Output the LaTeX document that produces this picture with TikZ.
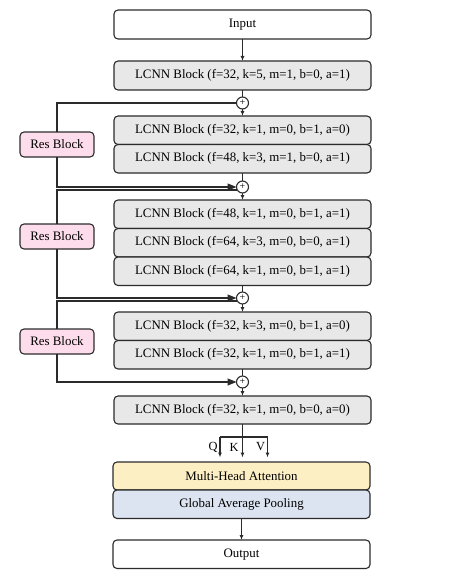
\documentclass[tikz,border=0pt]{standalone}
\usepackage{fontspec}
\setmainfont{Liberation Serif}
\usetikzlibrary{arrows.meta}
\definecolor{lcnn}{HTML}{E8E8E8}
\definecolor{resb}{HTML}{FDDDEB}
\definecolor{mha}{HTML}{FDEFC4}
\definecolor{gap}{HTML}{DCE4F1}
\definecolor{ln}{HTML}{2B2B2B}
\tikzset{
  box/.style={draw=ln, line width=1.1pt, rounded corners=4pt, minimum width=257pt, inner sep=0pt, outer sep=0pt, font=\fontsize{12.9}{14}\selectfont, anchor=north},
  resbox/.style={draw=ln, line width=1.1pt, rounded corners=4pt, fill=resb, minimum width=74pt, minimum height=25pt, inner sep=0pt, outer sep=0pt, font=\fontsize{12.9}{14}\selectfont},
  plusnode/.style={draw=ln, line width=1.1pt, circle, minimum size=12pt, inner sep=0pt, outer sep=0pt, fill=white, font=\fontsize{10}{10}\selectfont},
  conn/.style={draw=ln, line width=1.1pt},
  sarr/.style={conn, -{Latex[length=5pt,width=4pt]}},
  barr/.style={conn, -{Triangle[length=9pt,width=7pt]}},
  lab/.style={font=\fontsize{12.4}{14}\selectfont, inner sep=0pt}
}
\begin{document}
\begin{tikzpicture}[x=1pt,y=-1pt]
\useasboundingbox (0,0) rectangle (474,575);
% main column
\node[box, minimum height=29pt] (in) at (242.5,10) {Input};
\node[box, fill=lcnn, minimum height=29pt] (l1) at (242.5,61) {LCNN Block (f=32, k=5, m=1, b=0, a=1)};
\node[plusnode] (p1) at (242.5,103) {+};
\node[box, fill=lcnn, minimum height=28.5pt] (l2) at (242.5,116) {LCNN Block (f=32, k=1, m=0, b=1, a=0)};
\node[box, fill=lcnn, minimum height=28.5pt] (l3) at (242.5,144.5) {LCNN Block (f=48, k=3, m=1, b=0, a=1)};
\node[plusnode] (p2) at (242.5,187) {+};
\node[box, fill=lcnn, minimum height=28.5pt] (l4) at (242.5,200) {LCNN Block (f=48, k=1, m=0, b=1, a=1)};
\node[box, fill=lcnn, minimum height=28.5pt] (l5) at (242.5,228.5) {LCNN Block (f=64, k=3, m=0, b=0, a=1)};
\node[box, fill=lcnn, minimum height=28.5pt] (l6) at (242.5,257) {LCNN Block (f=64, k=1, m=0, b=1, a=1)};
\node[plusnode] (p3) at (242.5,298) {+};
\node[box, fill=lcnn, minimum height=28.5pt] (l7) at (242.5,312) {LCNN Block (f=32, k=3, m=0, b=1, a=0)};
\node[box, fill=lcnn, minimum height=28.5pt] (l8) at (242.5,340.5) {LCNN Block (f=32, k=1, m=0, b=1, a=1)};
\node[plusnode] (p4) at (242.5,382) {+};
\node[box, fill=lcnn, minimum height=28pt] (l9) at (242.5,396) {LCNN Block (f=32, k=1, m=0, b=0, a=0)};
\node[box, fill=mha, minimum height=28pt] (mh) at (241.5,462) {Multi-Head Attention};
\node[box, fill=gap, minimum height=28.5pt] (gp) at (241.5,490) {Global Average Pooling};
\node[box, minimum height=28.5pt] (out) at (241.5,540) {Output};
% res blocks
\node[resbox] (r1) at (57,144.5) {Res Block};
\node[resbox] (r2) at (57,236.5) {Res Block};
\node[resbox] (r3) at (57,341.5) {Res Block};
% vertical connectors
\draw[sarr] (in.south) -- (l1.north);
\draw[conn] (l1.south) -- (p1.north);
\draw[sarr] (p1.south) -- (l2.north);
\draw[conn] (l3.south) -- (p2.north);
\draw[sarr] (p2.south) -- (l4.north);
\draw[conn] (l6.south) -- (p3.north);
\draw[sarr] (p3.south) -- (l7.north);
\draw[conn] (l8.south) -- (p4.north);
\draw[sarr] (p4.south) -- (l9.north);
\draw[sarr] (gp.south) -- (out.north);
% skips
\draw[conn] (p1.west) -| (r1.north);
\draw[barr] (r1.south) |- (p2.west);
\draw[conn] (p2.210) -| (r2.north);
\draw[barr] (r2.south) |- (p3.west);
\draw[conn] (p3.210) -| (r3.north);
\draw[barr] (r3.south) |- (p4.west);
% QKV
\coordinate (qt) at (220,437);
\coordinate (vt) at (267.5,437);
\coordinate (qe) at (220,457.5);
\coordinate (ke) at (242.5,457.5);
\coordinate (ve) at (267.5,457.5);
\draw[sarr] (l9.south) -- (ke);
\draw[conn] (qt) -- (vt);
\draw[sarr] (qt) -- (qe);
\draw[sarr] (vt) -- (ve);
\node[lab] (ql) at (213,447) {Q};
\node[lab] (kl) at (234,447) {K};
\node[lab] (vl) at (260.5,447) {V};
\end{tikzpicture}
\end{document}
